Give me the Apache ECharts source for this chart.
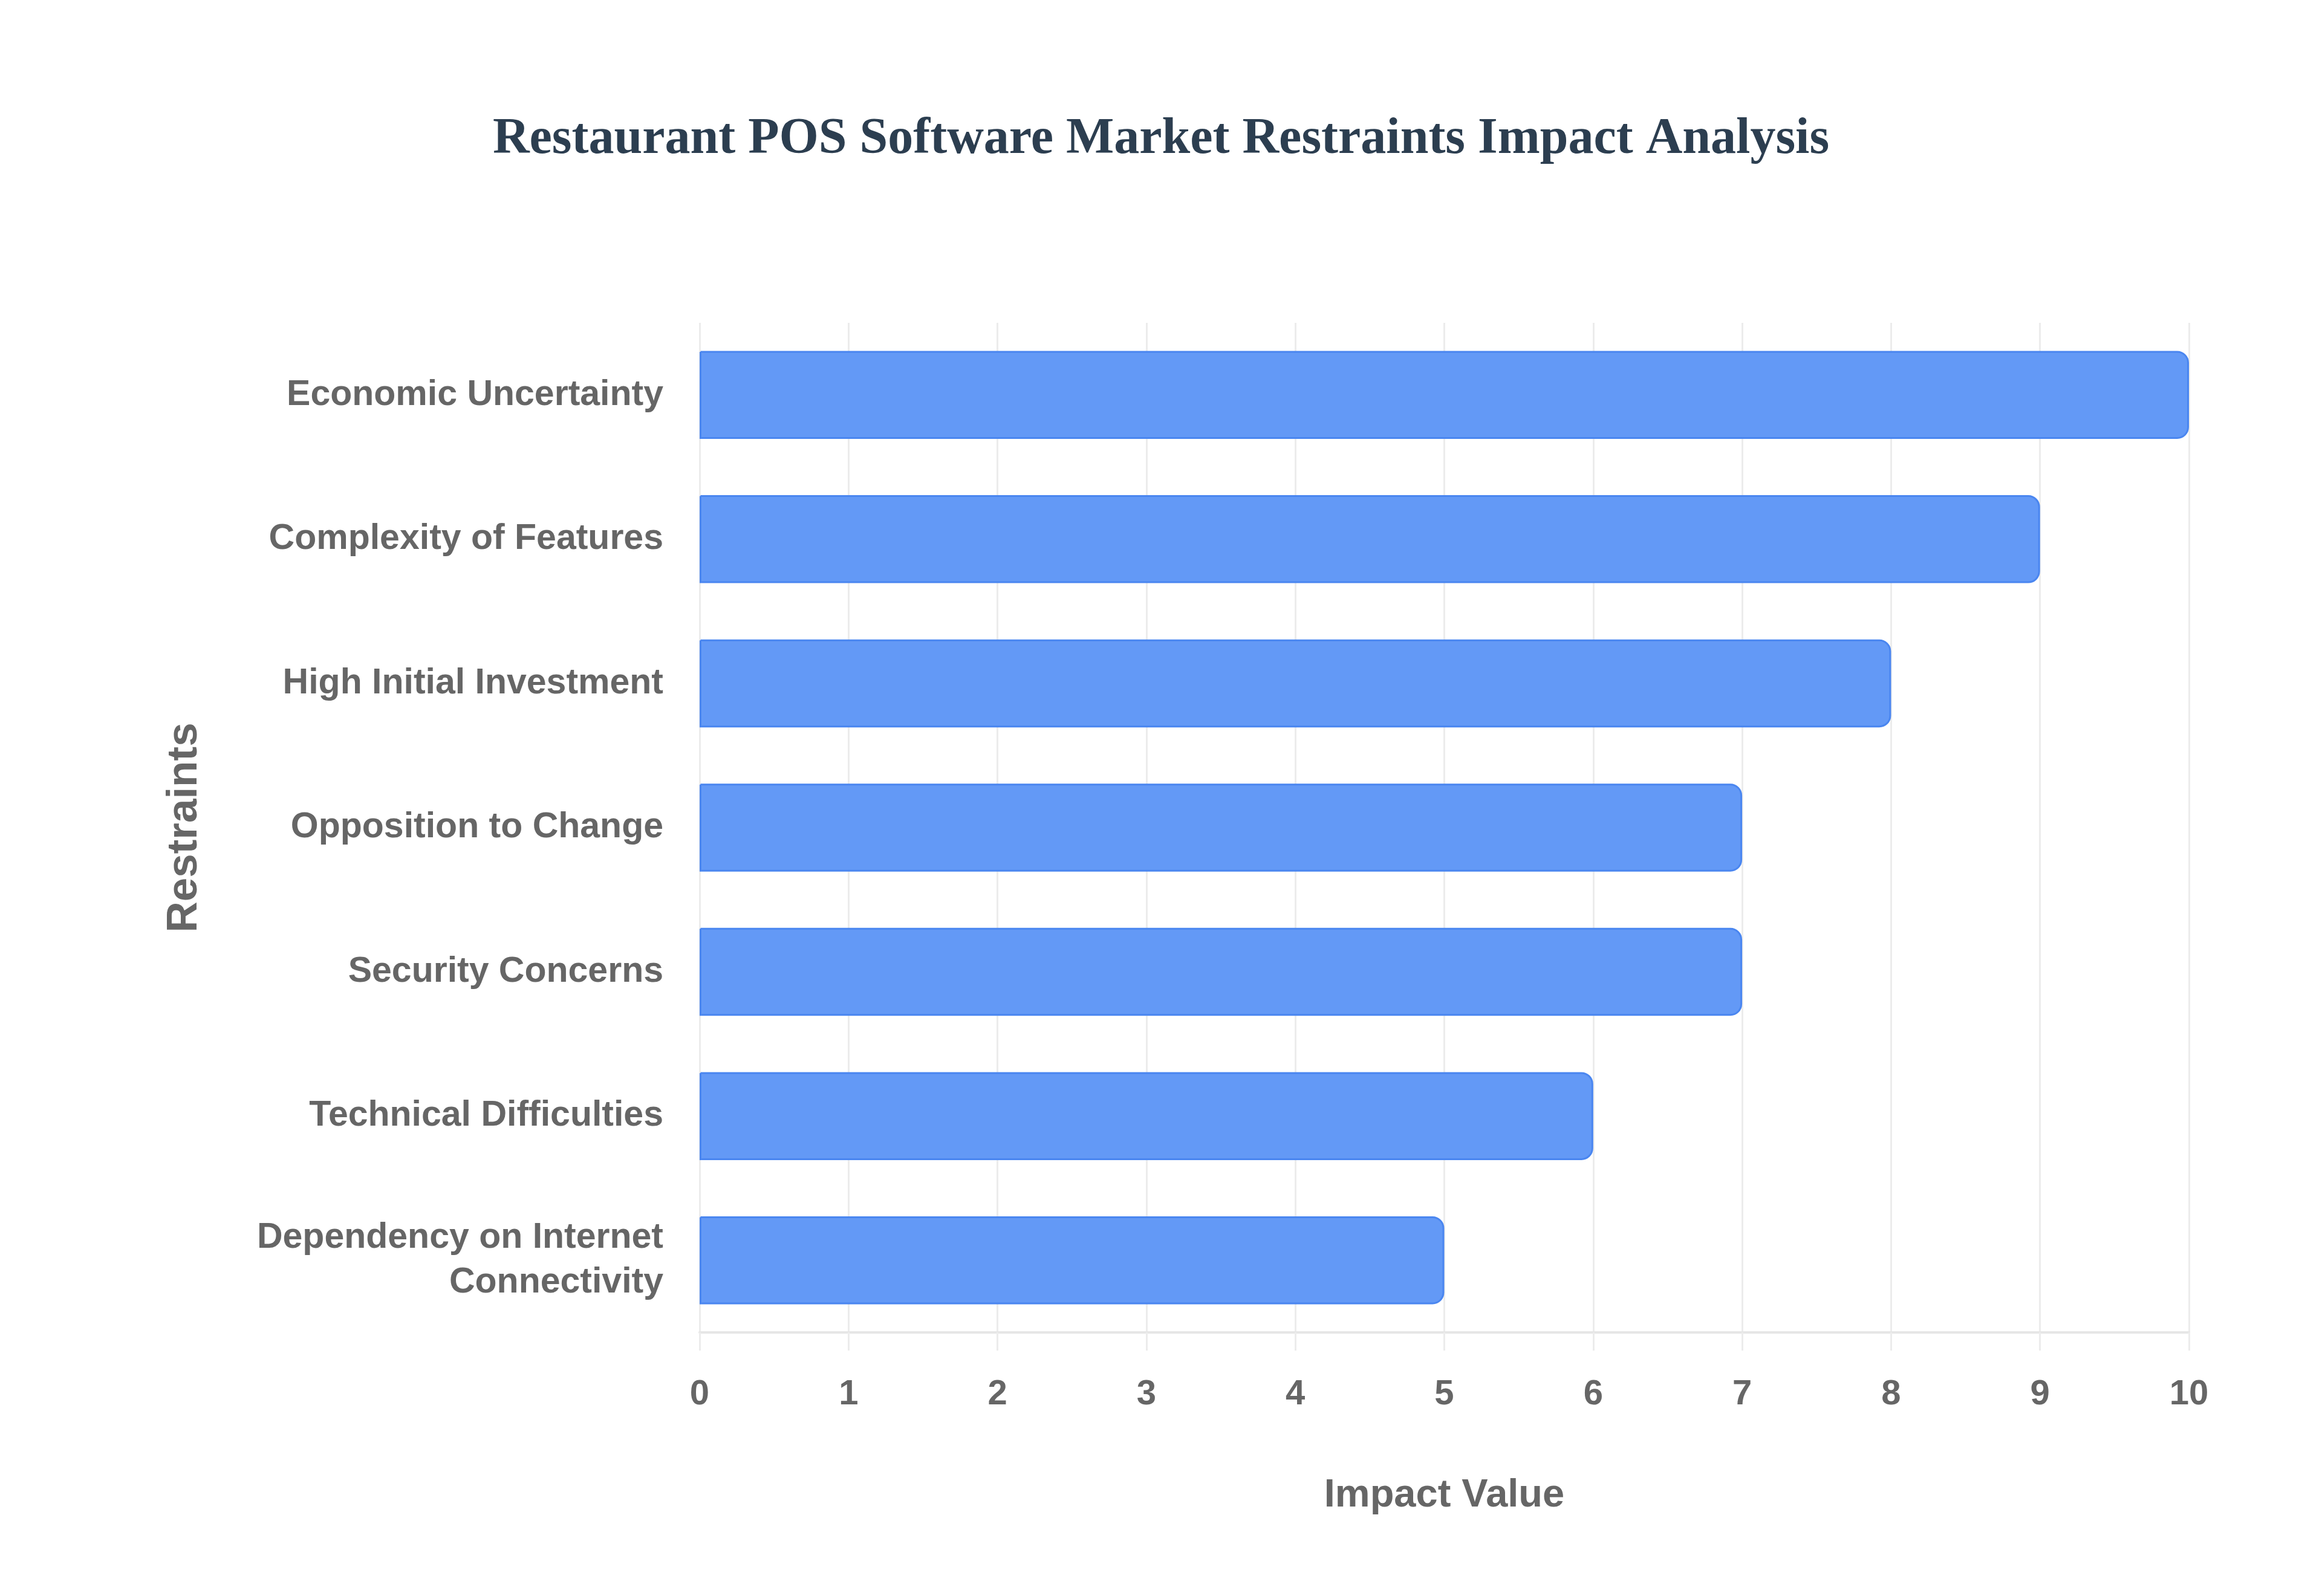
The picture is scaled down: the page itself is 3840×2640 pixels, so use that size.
<!DOCTYPE html>
<html lang="en">

<head>
    <meta charset="UTF-8">
    <title>Restaurant POS Software Market Restraints</title>
</head>
<style>
    html, body { margin: 0; padding: 0; background: #fff; }
    #main {
        width: 3840px;
        height: 2640px;
    }
</style>

<body>
    <div id="main"></div>
    <script src="https://cdn.jsdelivr.net/npm/echarts@6/dist/echarts.min.js"></script>

    <script>
        // top to bottom as shown in the chart
        const restraints = [
            'Economic Uncertainty',
            'Complexity of Features',
            'High Initial Investment',
            'Opposition to Change',
            'Security Concerns',
            'Technical Difficulties',
            'Dependency on Internet\nConnectivity'
        ]
        const impactValues = [10, 9, 8, 7, 7, 6, 5]
        const xTicks = [0, 10, 1] // min, max, interval

        let chart = echarts.init(document.getElementById('main'))
        const labelColor = '#666'
        const sans = 'Liberation Sans, Arial, sans-serif'

        let option = {
            backgroundColor: '#fff',
            title: {
                text: 'Restaurant POS Software Market Restraints Impact Analysis',
                left: 'center',
                top: 184,
                textStyle: {
                    fontFamily: 'Liberation Serif, Times New Roman, serif',
                    fontWeight: 'bold',
                    fontSize: 84,
                    color: '#2c3e50'
                }
            },
            grid: {
                left: 1157,
                right: 220,
                top: 534,
                bottom: 436
            },
            xAxis: {
                type: 'value',
                min: xTicks[0],
                max: xTicks[1],
                interval: xTicks[2],
                name: 'Impact Value',
                nameLocation: 'middle',
                nameGap: 238,
                nameTextStyle: {
                    color: labelColor,
                    fontFamily: sans,
                    fontWeight: 'bold',
                    fontSize: 65
                },
                axisLine: { show: true, lineStyle: { color: '#e6e6e6', width: 4 } },
                axisTick: { show: true, length: 30, lineStyle: { color: '#ececec', width: 3 } },
                axisLabel: {
                    color: labelColor,
                    fontFamily: sans,
                    fontWeight: 'bold',
                    fontSize: 58,
                    margin: 74
                },
                splitLine: { show: true, lineStyle: { color: '#ececec', width: 3 } }
            },
            yAxis: {
                type: 'category',
                inverse: true,
                data: restraints,
                name: 'Restraints',
                nameLocation: 'middle',
                nameGap: 816,
                nameRotate: 90,
                nameTextStyle: {
                    color: labelColor,
                    fontFamily: sans,
                    fontWeight: 'bold',
                    fontSize: 71
                },
                axisLine: { show: false },
                axisTick: { show: false },
                axisLabel: {
                    color: labelColor,
                    fontFamily: sans,
                    fontWeight: 'bold',
                    fontSize: 59,
                    lineHeight: 74,
                    margin: 60
                },
                splitLine: { show: false }
            },
            series: [
                {
                    type: 'bar',
                    data: impactValues,
                    barCategoryGap: '39%',
                    itemStyle: {
                        color: '#6399f6',
                        borderColor: '#4a86f0',
                        borderWidth: 3,
                        borderRadius: [0, 18, 18, 0]
                    },
                    animation: false
                }
            ]
        }
        chart.setOption(option)
    </script>
</body>

</html>
